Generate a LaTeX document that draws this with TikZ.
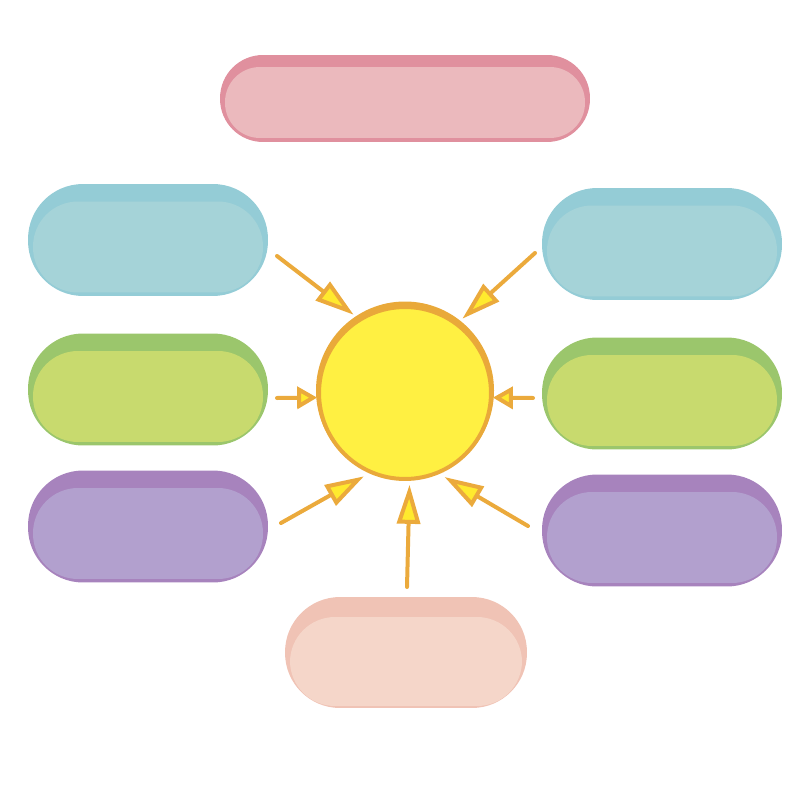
\documentclass[tikz,border=0pt]{standalone}
\usepackage{tikz}
\usetikzlibrary{positioning,arrows.meta,calc}

\definecolor{pinkout}{HTML}{E0909E}
\definecolor{pinkin}{HTML}{EBB9BD}
\definecolor{blueout}{HTML}{94CCD6}
\definecolor{bluein}{HTML}{A5D3D8}
\definecolor{greenout}{HTML}{9BC66C}
\definecolor{greenin}{HTML}{C8DA6E}
\definecolor{purpleout}{HTML}{A783BD}
\definecolor{purplein}{HTML}{B2A0CE}
\definecolor{peachout}{HTML}{F0C3B5}
\definecolor{peachin}{HTML}{F5D6C9}
\definecolor{sunfill}{HTML}{FFF042}
\definecolor{sunedge}{HTML}{E9A93A}
\definecolor{rayorange}{HTML}{EBAA3C}
\definecolor{rayyellow}{HTML}{FFEA2E}

\tikzset{
  capsule/.style={rectangle, rounded corners=1.1cm, inner sep=0pt, minimum width=4.8cm, minimum height=2.24cm},
  capsulein/.style={rectangle, rounded corners=0.9cm, inner sep=0pt, minimum width=4.6cm, minimum height=1.82cm, yshift=-0.14cm},
  ray/.style={draw=rayorange, line width=0.08cm, line cap=round, -{Triangle[length=0.78cm, width=0.46cm, fill=rayyellow]}, shorten >=0.12cm},
  shortray/.style={draw=rayorange, line width=0.08cm, line cap=round, -{Triangle[length=0.4cm, width=0.44cm, fill=rayyellow]}},
}

\begin{document}
\begin{tikzpicture}[x=0.02cm, y=-0.02cm]
  \useasboundingbox (0,0) rectangle (800,800);

  % top box
  \node[capsule, fill=pinkout, minimum width=7.4cm, minimum height=1.74cm, rounded corners=0.86cm] (top) at (405,98.5) {};
  \node[capsulein, fill=pinkin, minimum width=7.2cm, minimum height=1.42cm, rounded corners=0.7cm, yshift=0.06cm] (top-in) at (top) {};

  % left column
  \node[capsule, fill=blueout] (lb) at (148,240) {};
  \node[capsulein, fill=bluein] (lb-in) at (lb) {};
  \node[capsule, fill=greenout] (lg) at (148,389.5) {};
  \node[capsulein, fill=greenin] (lg-in) at (lg) {};
  \node[capsule, fill=purpleout] (lp) at (148,526.5) {};
  \node[capsulein, fill=purplein] (lp-in) at (lp) {};

  % right column
  \node[capsule, fill=blueout] (rb) at (662,244) {};
  \node[capsulein, fill=bluein] (rb-in) at (rb) {};
  \node[capsule, fill=greenout] (rg) at (662,393.5) {};
  \node[capsulein, fill=greenin] (rg-in) at (rg) {};
  \node[capsule, fill=purpleout] (rp) at (662,530.5) {};
  \node[capsulein, fill=purplein] (rp-in) at (rp) {};

  % bottom box
  \node[capsule, fill=peachout, minimum width=4.84cm, minimum height=2.22cm] (bot) at (406,652.5) {};
  \node[capsulein, fill=peachin, minimum width=4.64cm, minimum height=1.78cm, yshift=-0.04cm] (bot-in) at (bot) {};

  % sun
  \fill[sunedge] (405,390.5) circle (89);
  \node[circle, fill=sunfill, draw=sunedge, line width=0.08cm, minimum size=3.44cm, inner sep=0pt] (sun) at (405,393) {};

  % rays
  \coordinate (s-tl) at (277,256);
  \coordinate (s-tr) at (535,253);
  \coordinate (s-l) at (277,398);
  \coordinate (s-r) at (533,398);
  \coordinate (s-bl) at (281,523);
  \coordinate (s-b) at (407,587);
  \coordinate (s-br) at (528,526);
  \draw[ray] (s-tl) -- (sun.122);
  \draw[ray] (s-tr) -- (sun.53);
  \draw[shortray] (s-l) -- (sun.183);
  \draw[shortray] (s-r) -- (sun.357);
  \draw[ray] (s-bl) -- (sun.246);
  \draw[ray, shorten >=0.08cm] (s-b) -- (sun.273);
  \draw[ray] (s-br) -- (sun.293);
\end{tikzpicture}
\end{document}
